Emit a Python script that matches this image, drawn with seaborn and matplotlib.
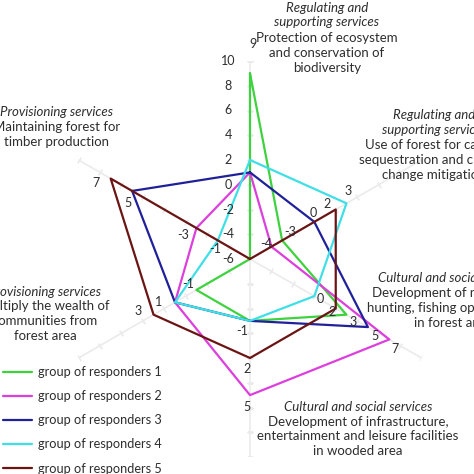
import numpy as np
import pandas as pd
import matplotlib
matplotlib.use("Agg")
import matplotlib.pyplot as plt
import seaborn as sns

# axes of the radar, clockwise from the top
axis_type = ["Regulating and\nsupporting services",
             "Regulating and\nsupporting services",
             "Cultural and social services",
             "Cultural and social services",
             "Provisioning services",
             "Provisioning services"]
axis_desc = ["Protection of ecosystem\nand conservation of\nbiodiversity",
             "Use of forest for carbon\nsequestration and climate\nchange mitigation",
             "Development of recreation,\nhunting, fishing opportunities\nin forest area",
             "Development of infrastructure,\nentertainment and leisure facilities\nin wooded area",
             "Multiply the wealth of\ncommunities from\nforest area",
             "Maintaining forest for\ntimber production"]

groups = ["group of responders 1", "group of responders 2", "group of responders 3",
          "group of responders 4", "group of responders 5"]
group1 = [9, -3, 3, -1, -1, -6]
group2 = [1, -4, 7, 5, 1, -1]
group3 = [1, 0, 5, -1, 1, 5]
group4 = [2, 3, 0, -1, 1, -3]
group5 = [-6, 2, 2, 2, 3, 7]

# value labels written next to the points (None = no label)
labels1 = ["9", "-3", "3", "-1", "-1", None]
labels2 = [None, "-4", "7", "5", None, "-3"]
labels3 = [None, "0", "5", None, "1", "5"]
labels4 = [None, "3", "0", None, None, "-1"]
labels5 = [None, "2", "2", "2", "3", "7"]

r_ticks = [10, 8, 6, 4, 2, 0, -2, -4, -6]

colors = ["#3fd23f", "#dc3fdc", "#20209a", "#3fdfe6", "#6b1414"]

# label offsets in pixels (right, down)
label_offsets = {
    (0, 0): (3, -29), (0, 1): (8, -8), (0, 2): (7, 7), (0, 3): (-8, 10), (0, 4): (-8, -6),
    (1, 1): (-5, -3), (1, 2): (6, 10), (1, 3): (-3, 12), (1, 5): (-13, 7),
    (2, 1): (-1, -9), (2, 2): (7, 9), (2, 4): (-16, 0), (2, 5): (-4, 12),
    (3, 1): (2, -12), (3, 2): (6, 3), (3, 5): (-3, 9),
    (4, 1): (-9, -5), (4, 2): (-4, 3), (4, 3): (-3, 11), (4, 4): (-15, -4), (4, 5): (-15, 4),
}

n = len(axis_desc)
theta = np.radians(np.arange(n) * 360 / n)

rows = []
for g, vals in zip(groups, [group1, group2, group3, group4, group5]):
    for t, v in zip(list(theta) + [2 * np.pi], vals + [vals[0]]):
        rows.append({"group": g, "theta": t, "value": v})
df = pd.DataFrame(rows)

sns.set_style("white")
plt.rcParams["font.family"] = ["Lato", "DejaVu Sans"]
txt_color = "#2e2e2e"
spoke_color = "#ebebeb"

W = 474
fig = plt.figure(figsize=(4.74, 4.74), dpi=100)
cx, cy, R = 250, 259, 198
ax = fig.add_axes([(cx - R) / W, (W - cy - R) / W, 2 * R / W, 2 * R / W], projection="polar")
ax.set_theta_zero_location("N")
ax.set_theta_direction(-1)
ax.set_ylim(-6, 10)
ax.set_xticks(theta)
ax.set_xticklabels([])
ax.set_yticks(r_ticks)
ax.set_yticklabels([])
ax.yaxis.grid(False)
ax.xaxis.grid(True, color=spoke_color, linewidth=1.2)
ax.spines["polar"].set_visible(False)
ax.set_facecolor("none")

# small ticks across each spoke
for t in theta:
    rot = 90 - np.degrees(t)
    ax.plot([t] * 8, list(range(-4, 11, 2)), linestyle="none",
            marker=(2, 2, rot), markersize=4.5, color=spoke_color, markeredgewidth=1.0)

sns.lineplot(data=df, x="theta", y="value", hue="group", palette=colors,
             sort=False, estimator=None, linewidth=1.6, ax=ax)
ax.set_xlabel("")
ax.set_ylabel("")

# radial scale written left of the top spoke
for v in r_ticks:
    ax.annotate(str(v), xy=(0, v), xytext=(-22, 0), textcoords="offset pixels",
                ha="center", va="center", fontsize=9, color=txt_color)

for gi, labs in enumerate([labels1, labels2, labels3, labels4, labels5]):
    vals = [group1, group2, group3, group4, group5][gi]
    for ai, lab in enumerate(labs):
        if lab is None:
            continue
        dx, dy = label_offsets[(gi, ai)]
        ax.annotate(lab, xy=(theta[ai], vals[ai]), xytext=(dx, -dy),
                    textcoords="offset pixels", ha="center", va="center",
                    fontsize=9, color=txt_color)

# category names: (x, y of italic block, y of plain block) in pixels
label_pos = [(327, 15, 53), (434, 122.5, 160), (452, 278, 308),
             (358, 407, 436.5), (45, 292, 321), (57, 112, 134.5)]
for (x, yi, yr), ttl, desc in zip(label_pos, axis_type, axis_desc):
    fig.text(x / W, 1 - yi / W, ttl, ha="center", va="center", fontsize=9.5,
             style="italic", color=txt_color, linespacing=1.28)
    fig.text(x / W, 1 - yr / W, desc, ha="center", va="center", fontsize=9.5,
             color=txt_color, linespacing=1.28)

handles, labels = ax.get_legend_handles_labels()
ax.legend(handles, labels, loc="upper left", bbox_to_anchor=(3 / W, 1 - 366 / W),
          bbox_transform=fig.transFigure, frameon=False, fontsize=9.2,
          handlelength=2.3, handletextpad=0.45, labelspacing=0.95,
          borderpad=0, borderaxespad=0, labelcolor=txt_color)

fig.savefig("out.png", dpi=100)
